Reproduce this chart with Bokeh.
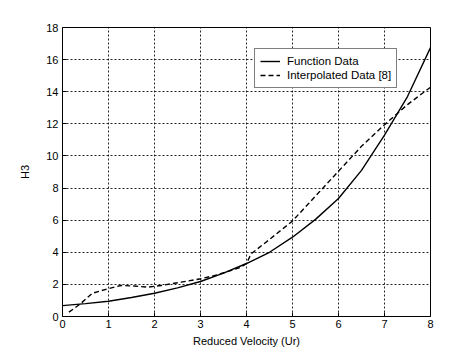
from bokeh.plotting import figure
from bokeh.models import Legend, LegendItem, Range1d, FixedTicker
from bokeh.embed import file_html
from bokeh.resources import INLINE

# Function data (solid)
func_x = [0.0, 0.5, 1.0, 1.5, 2.0, 2.5, 3.0, 3.5, 4.0, 4.5, 5.0, 5.5, 6.0, 6.5, 7.0, 7.5, 8.0]
func_y = [0.68, 0.8, 0.95, 1.18, 1.45, 1.78, 2.18, 2.7, 3.3, 4.0, 4.94, 6.05, 7.35, 9.1, 11.3, 13.7, 16.75]

# Interpolated data [8] (dashed)
interp_x = [0.14, 0.39, 0.65, 0.98, 1.27, 1.56, 1.85, 2.14, 2.58, 3.01, 3.37, 3.88, 4.0, 4.1, 4.5, 5.0, 5.5, 6.0, 6.5, 7.0, 7.5, 8.0]
interp_y = [0.27, 0.79, 1.45, 1.72, 1.93, 1.9, 1.83, 1.93, 2.14, 2.35, 2.6, 3.07, 3.3, 3.9, 4.8, 5.95, 7.5, 9.05, 10.6, 11.95, 13.2, 14.28]

x_ticks = [0, 1, 2, 3, 4, 5, 6, 7, 8]
y_ticks = [0, 2, 4, 6, 8, 10, 12, 14, 16, 18]

FONT = "Liberation Sans"

p = figure(width=474, height=355, output_backend="svg", toolbar_location=None,
           x_range=Range1d(0, 8), y_range=Range1d(0, 18),
           min_border_left=62, min_border_right=44, min_border_top=27, min_border_bottom=39)
p.outline_line_color = "black"
p.outline_line_width = 1
p.background_fill_color = "white"
p.border_fill_color = "white"

for ax, ticks in ((p.xaxis[0], x_ticks), (p.yaxis[0], y_ticks)):
    ax.ticker = FixedTicker(ticks=ticks)
    ax.major_tick_in = 4
    ax.major_tick_out = 0
    ax.minor_tick_line_color = None
    ax.axis_line_color = "black"
    ax.major_tick_line_color = "black"
    ax.major_label_text_font = FONT
    ax.major_label_text_font_size = "11px"
    ax.major_label_text_color = "black"
    ax.axis_label_text_font = FONT
    ax.axis_label_text_font_size = "11px"
    ax.axis_label_text_font_style = "normal"
    ax.axis_label_text_color = "black"

p.xaxis.axis_label = "Reduced Velocity (Ur)"
p.yaxis.axis_label = "H3"
p.xaxis.major_label_standoff = 3
p.xaxis.axis_label_standoff = 4
p.yaxis.major_label_standoff = 4
p.yaxis.axis_label_standoff = 12

p.xgrid.ticker = FixedTicker(ticks=x_ticks)
p.ygrid.ticker = FixedTicker(ticks=y_ticks)
p.grid.grid_line_color = "black"
p.grid.grid_line_dash = "2 2"
p.grid.grid_line_width = 1
p.grid.grid_line_alpha = 0.85

r1 = p.line(func_x, func_y, line_color="black", line_width=1.4)
r2 = p.line(interp_x, interp_y, line_color="black", line_width=1.4, line_dash="5 3")

legend = Legend(items=[LegendItem(label="Function Data", renderers=[r1]),
                       LegendItem(label="Interpolated Data [8]", renderers=[r2])],
                location=(192, 228))
legend.border_line_color = "black"
legend.border_line_width = 1
legend.background_fill_color = "white"
legend.background_fill_alpha = 1
legend.label_text_font = FONT
legend.label_text_font_size = "11.5px"
legend.label_text_color = "black"
legend.glyph_width = 20
legend.glyph_height = 14
legend.label_height = 14
legend.spacing = 0
legend.padding = 5
legend.margin = 0
legend.label_standoff = 7
p.add_layout(legend, "center")

open("out.html", "w").write(file_html(p, INLINE))
